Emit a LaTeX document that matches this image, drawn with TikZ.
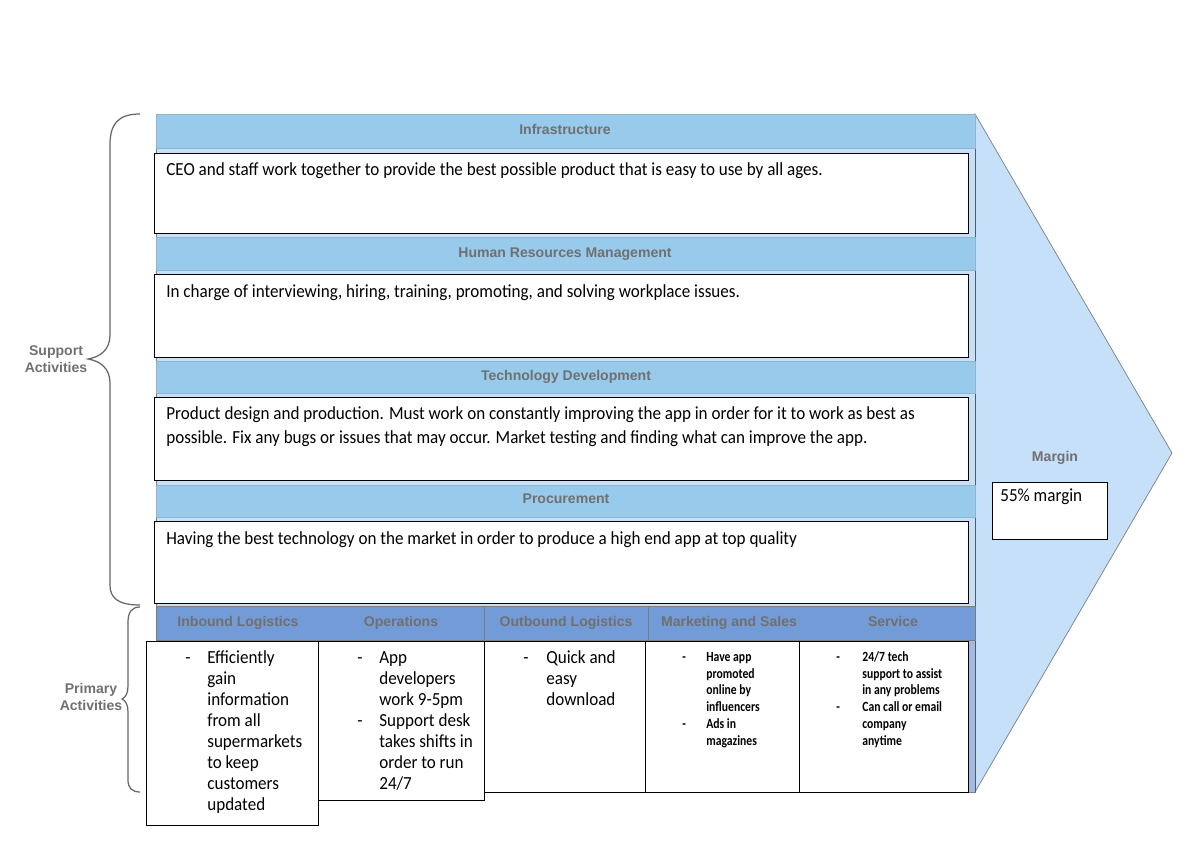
\documentclass[tikz,border=0pt]{standalone}
\usepackage{fontspec}
\setmainfont{Carlito}
\newfontfamily\headfont{Liberation Sans}
\newfontfamily\bodyfont[FakeStretch=0.925]{Carlito}
\newfontfamily\smallfont[FakeStretch=0.83]{Carlito}
\usetikzlibrary{positioning}

\definecolor{barblue}{RGB}{151,202,235}
\definecolor{paleblue}{RGB}{197,224,248}
\definecolor{primblue}{RGB}{114,155,215}
\definecolor{stripblue}{RGB}{163,186,228}
\definecolor{headgray}{RGB}{112,112,112}
\definecolor{linegray}{RGB}{125,125,125}

\newcommand{\dashlist}[2][0.44cm]{\begin{tabular}{@{}p{#1}@{}l@{}}#2\end{tabular}}

\begin{document}
\begin{tikzpicture}[
    x=0.02cm, y=-0.02cm,
    bar/.style={fill=barblue, draw=barblue!70!gray, thin},
    primbar/.style={fill=primblue, draw=linegray, thin},
    note/.style={fill=white, draw=black, thin},
    headfnt/.style={font=\headfont\bfseries\fontsize{8}{9.6}\selectfont, text=headgray, inner sep=0pt},
    head/.style={headfnt, text height=6pt, text depth=1.6pt},
    body/.style={font=\bodyfont\fontsize{10.5}{13.6}\selectfont, align=left, anchor=north west, inner sep=0pt},
    cell/.style={font=\bodyfont\fontsize{10.5}{11.9}\selectfont, anchor=north west, inner sep=0pt},
    smallcell/.style={font=\smallfont\bfseries\fontsize{8}{9.6}\selectfont, anchor=north west, inner sep=0pt},
    brace/.style={draw=gray!80!black, line width=0.7pt}
  ]
  \useasboundingbox (0,0) rectangle (1200,848);

  % chain body and margin arrow
  \filldraw[fill=paleblue, draw=linegray, thin] (975,114) -- (1172,453) -- (975,792) -- cycle;
  \filldraw[fill=paleblue, draw=linegray, thin] (156,114) rectangle (975,792);
  \fill[stripblue] (156,640) rectangle (975,792);
  \draw[gray!70!black, thin] (975,114) -- (975,792);

  % support activities
  \filldraw[bar] (156,114) rectangle (975,148);
  \node[head] (infra) at (565,131) {Infrastructure};
  \filldraw[note] (154,153) rectangle (968,233);
  \node[body] (infratext) at (166,162) {CEO and staff work together to provide the best possible product that is easy to use by all ages.};

  \filldraw[bar] (156,237) rectangle (975,270);
  \node[head] (hrm) at (565,254) {Human Resources Management};
  \filldraw[note] (154,274) rectangle (968,357);
  \node[body] (hrmtext) at (166,284) {In charge of interviewing, hiring, training, promoting, and solving workplace issues.};

  \filldraw[bar] (156,361) rectangle (975,393);
  \node[head] (tech) at (566,377) {Technology Development};
  \filldraw[note] (154,397) rectangle (968,480);
  \node[body] (techtext) at (166,406) {Product design and production. Must work on constantly improving the app in order for it to work as best as\\
    possible. Fix any bugs or issues that may occur. Market testing and finding what can improve the app.};

  \filldraw[bar] (156,485) rectangle (975,517);
  \node[head] (proc) at (566,500) {Procurement};
  \filldraw[note] (154,521) rectangle (968,603);
  \node[body] (proctext) at (166,531) {Having the best technology on the market in order to produce a high end app at top quality};

  % primary activities
  \filldraw[primbar] (156,606) rectangle (975,640);
  \draw[linegray, thin] (484,606) -- (484,640) (648,606) -- (648,640);
  \node[head] (inbound) at (238,623) {Inbound Logistics};
  \node[head] (ops) at (401,623) {Operations};
  \node[head] (outbound) at (566,623) {Outbound Logistics};
  \node[head] (mks) at (729,623) {Marketing and Sales};
  \node[head] (service) at (893,623) {Service};

  \filldraw[note] (484,641) rectangle (645,792);
  \filldraw[note] (645,641) rectangle (799,792);
  \filldraw[note] (799,641) rectangle (968,792);
  \filldraw[note] (318,641) rectangle (484,800);
  \filldraw[note] (146,641) rectangle (318,825);

  \node[cell] (inboundtext) at (185,649) {\dashlist{- & Efficiently\\ & gain\\ & information\\ & from all\\ & supermarkets\\ & to keep\\ & customers\\ & updated}};
  \node[cell] (opstext) at (357,649) {\dashlist{- & App\\ & developers\\ & work 9-5pm\\ - & Support desk\\ & takes shifts in\\ & order to run\\ & 24/7}};
  \node[cell] (outboundtext) at (523,649) {\dashlist[0.46cm]{- & Quick and\\ & easy\\ & download}};
  \node[smallcell] (mkstext) at (682,649) {\dashlist[0.48cm]{- & Have app\\ & promoted\\ & online by\\ & influencers\\ - & Ads in\\ & magazines}};
  \node[smallcell] (servicetext) at (836,649) {\dashlist[0.52cm]{- & 24/7 tech\\ & support to assist\\ & in any problems\\ - & Can call or email\\ & company\\ & anytime}};

  % margin
  \node[head] (margin) at (1055,458) {Margin};
  \filldraw[note] (992,482) rectangle (1107,539);
  \node[body] (margintext) at (1000,488) {55\% margin};

  % braces
  \draw[brace] (140,114) .. controls (118,114) and (110,124) .. (110,145) -- (110,335)
    .. controls (110,350) and (100,357) .. (88,359) .. controls (100,361) and (110,368) .. (110,383)
    -- (110,585) .. controls (110,598) and (118,605) .. (140,605);
  \draw[brace] (140,607) .. controls (132,607) and (128,612) .. (128,622) -- (128,686)
    .. controls (128,693) and (126,697) .. (122,699) .. controls (126,701) and (128,705) .. (128,712)
    -- (128,780) .. controls (128,788) and (132,792) .. (140,792);
  \node[headfnt, align=center] (support) at (56,359) {Support\\Activities};
  \node[headfnt, align=center] (primary) at (91,697) {Primary\\Activities};
\end{tikzpicture}
\end{document}
